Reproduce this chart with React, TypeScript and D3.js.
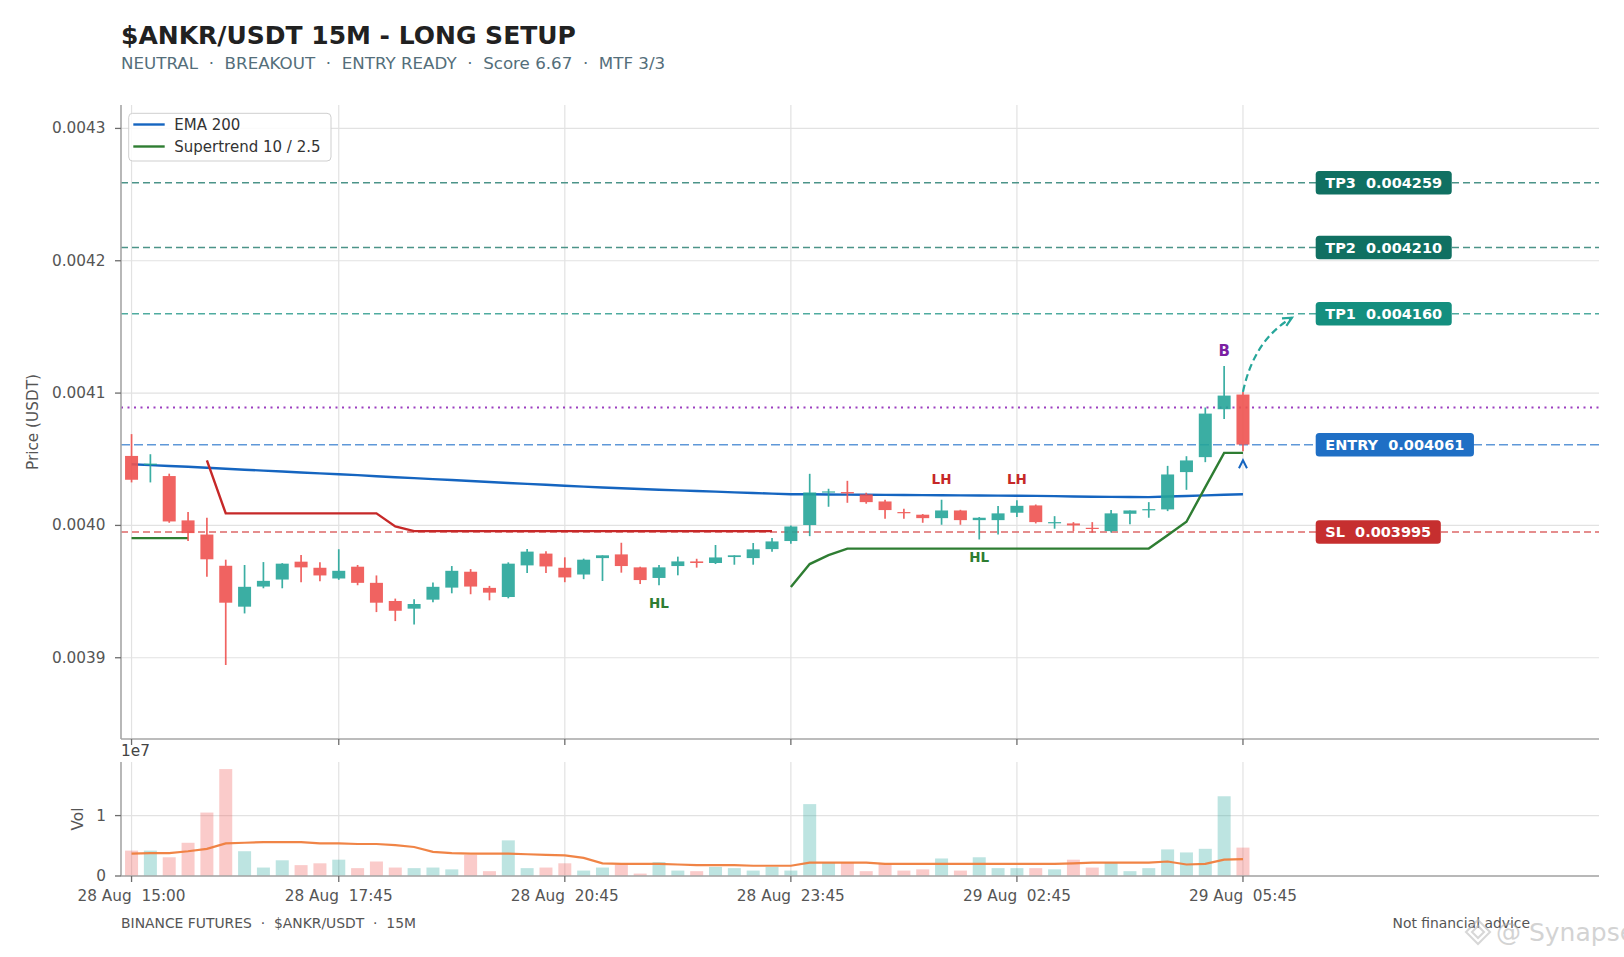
import React, { useEffect, useRef } from "react";
import * as d3 from "d3";

const W = 1624;
const H = 957;
const FONT = "'DejaVu Sans', 'Liberation Sans', sans-serif";

// ---- data ----
const opens = [
  0.0040525, 0.0040457, 0.0040373, 0.0040038, 0.0039931, 0.0039695, 0.0039386, 0.0039538, 0.0039591, 0.0039726,
  0.003968, 0.0039599, 0.0039688, 0.0039566, 0.0039429, 0.0039371, 0.0039439, 0.003953, 0.003965, 0.0039528,
  0.0039459, 0.0039698, 0.0039787, 0.003968, 0.0039629, 0.0039753, 0.0039781, 0.0039683, 0.0039603, 0.0039693,
  0.0039728, 0.0039716, 0.0039761, 0.0039753, 0.0039821, 0.0039882, 0.0040003, 0.0040249, 0.0040252, 0.0040234,
  0.0040181, 0.0040101, 0.0040081, 0.0040055, 0.0040113, 0.004004, 0.004004, 0.0040096, 0.0040151, 0.0040018,
  0.0040015, 0.0039982, 0.0039957, 0.0040088, 0.0040116, 0.0040121, 0.0040403, 0.0040516, 0.0040878, 0.0040989,
];
const highs = [
  0.004069, 0.0040538, 0.0040391, 0.0040102, 0.0040058, 0.0039741, 0.0039701, 0.0039723, 0.0039715, 0.0039777,
  0.0039721, 0.003982, 0.0039701, 0.0039622, 0.0039447, 0.0039442, 0.0039569, 0.0039693, 0.003967, 0.0039543,
  0.0039721, 0.0039822, 0.0039805, 0.0039759, 0.0039749, 0.0039774, 0.0039869, 0.0039688, 0.0039701, 0.0039764,
  0.0039748, 0.0039852, 0.0039774, 0.0039867, 0.0039904, 0.004, 0.004039, 0.0040277, 0.0040337, 0.0040247,
  0.0040194, 0.0040126, 0.0040086, 0.0040194, 0.0040118, 0.0040063, 0.0040146, 0.0040191, 0.0040158, 0.004007,
  0.0040025, 0.0040025, 0.0040116, 0.0040113, 0.0040176, 0.004045, 0.0040523, 0.0040891, 0.0041205, 0.0041009,
];
const lows = [
  0.0040325, 0.0040325, 0.004002, 0.0039883, 0.0039612, 0.0038945, 0.0039335, 0.0039525, 0.0039525, 0.0039571,
  0.0039579, 0.0039589, 0.0039548, 0.0039345, 0.0039277, 0.0039251, 0.0039419, 0.0039487, 0.003948, 0.0039434,
  0.0039449, 0.003964, 0.003964, 0.0039571, 0.0039594, 0.003958, 0.0039643, 0.0039557, 0.0039547, 0.0039623,
  0.0039681, 0.0039708, 0.0039703, 0.0039703, 0.0039801, 0.0039862, 0.0039919, 0.0040141, 0.0040171, 0.0040164,
  0.004005, 0.004005, 0.004002, 0.0040005, 0.0040005, 0.0039894, 0.0039932, 0.0040063, 0.0040015, 0.0039975,
  0.0039957, 0.0039945, 0.0039947, 0.0040008, 0.0040058, 0.0040108, 0.0040269, 0.0040478, 0.0040805, 0.0040561,
];
const closes = [
  0.0040345, 0.0040467, 0.004003, 0.0039942, 0.0039744, 0.0039416, 0.0039536, 0.0039581, 0.0039711, 0.0039683,
  0.0039622, 0.0039657, 0.0039566, 0.0039416, 0.0039355, 0.0039406, 0.0039536, 0.0039657, 0.0039538, 0.0039492,
  0.0039711, 0.0039802, 0.003969, 0.0039607, 0.0039741, 0.0039774, 0.0039693, 0.0039587, 0.0039683, 0.0039728,
  0.0039716, 0.0039758, 0.0039774, 0.0039819, 0.0039879, 0.0039992, 0.0040249, 0.0040257, 0.0040242, 0.0040176,
  0.0040116, 0.0040093, 0.0040055, 0.0040113, 0.004004, 0.0040058, 0.0040091, 0.0040148, 0.0040025, 0.0040025,
  0.004, 0.0039975, 0.0040091, 0.0040113, 0.0040123, 0.0040385, 0.0040491, 0.0040845, 0.0040981, 0.0040611,
];
const ema200 = [
  0.0040462, 0.0040456, 0.0040449, 0.0040443, 0.0040436, 0.0040428, 0.0040421, 0.0040414, 0.0040407, 0.00404,
  0.0040393, 0.0040387, 0.004038, 0.0040372, 0.0040364, 0.0040357, 0.004035, 0.0040343, 0.0040336, 0.0040328,
  0.0040321, 0.0040314, 0.0040307, 0.00403, 0.0040293, 0.0040287, 0.0040281, 0.0040275, 0.004027, 0.0040265,
  0.004026, 0.0040255, 0.004025, 0.0040245, 0.004024, 0.0040236, 0.0040235, 0.0040234, 0.0040233, 0.0040232,
  0.0040231, 0.004023, 0.0040229, 0.0040228, 0.0040227, 0.0040226, 0.0040225, 0.0040224, 0.0040223, 0.0040221,
  0.0040219, 0.0040217, 0.0040216, 0.0040215, 0.0040214, 0.0040218, 0.0040222, 0.0040227, 0.0040232, 0.0040236,
];
const N = null;
const stUp: (number | null)[] = [
  0.0039904, 0.0039904, 0.0039904, 0.0039904, N, N, N, N, N, N,
  N, N, N, N, N, N, N, N, N, N,
  N, N, N, N, N, N, N, N, N, N,
  N, N, N, N, N, 0.0039535, 0.0039708, 0.0039776, 0.0039825, 0.0039825,
  0.0039825, 0.0039825, 0.0039825, 0.0039825, 0.0039825, 0.0039825, 0.0039825, 0.0039825, 0.0039825, 0.0039825,
  0.0039825, 0.0039825, 0.0039825, 0.0039825, 0.0039825, 0.0039926, 0.0040028, 0.0040289, 0.0040548, 0.0040548,
];
const stDown: (number | null)[] = [
  N, N, N, N, 0.0040492, 0.0040091, 0.0040091, 0.0040091, 0.0040091, 0.0040091,
  0.0040091, 0.0040091, 0.0040091, 0.0040091, 0.0039992, 0.0039957, 0.0039957, 0.0039957, 0.0039957, 0.0039957,
  0.0039957, 0.0039957, 0.0039957, 0.0039957, 0.0039957, 0.0039957, 0.0039957, 0.0039957, 0.0039957, 0.0039957,
  0.0039957, 0.0039957, 0.0039957, 0.0039957, 0.0039957, N, N, N, N, N,
  N, N, N, N, N, N, N, N, N, N,
  N, N, N, N, N, N, N, N, N, N,
];
const volumes = [
  4.2e6, 4.2e6, 3.1e6, 5.5e6, 10.5e6, 17.7e6, 4.1e6, 1.4e6, 2.6e6, 1.8e6,
  2.1e6, 2.7e6, 1.3e6, 2.4e6, 1.4e6, 1.3e6, 1.4e6, 1.1e6, 3.5e6, 0.8e6,
  5.9e6, 1.3e6, 1.4e6, 2.1e6, 0.9e6, 1.4e6, 1.9e6, 0.4e6, 2.3e6, 0.9e6,
  0.8e6, 1.5e6, 1.3e6, 0.9e6, 1.5e6, 0.9e6, 11.9e6, 2.3e6, 2.3e6, 0.8e6,
  2.0e6, 0.9e6, 1.1e6, 2.9e6, 0.9e6, 3.1e6, 1.3e6, 1.3e6, 1.3e6, 1.1e6,
  2.7e6, 1.4e6, 2.3e6, 0.8e6, 1.3e6, 4.4e6, 3.9e6, 4.5e6, 13.2e6, 4.7e6,
];
const volMA = [
  3.7e6, 3.8e6, 3.8e6, 4.1e6, 4.5e6, 5.4e6, 5.5e6, 5.6e6, 5.6e6, 5.6e6,
  5.4e6, 5.4e6, 5.3e6, 5.3e6, 5.1e6, 4.8e6, 4.0e6, 3.8e6, 3.7e6, 3.7e6,
  3.7e6, 3.6e6, 3.5e6, 3.4e6, 3.0e6, 2.1e6, 2.0e6, 2.0e6, 2.0e6, 1.9e6,
  1.8e6, 1.8e6, 1.8e6, 1.7e6, 1.7e6, 1.7e6, 2.2e6, 2.2e6, 2.2e6, 2.2e6,
  2.0e6, 2.0e6, 2.0e6, 2.0e6, 2.0e6, 2.0e6, 2.0e6, 2.0e6, 2.0e6, 2.0e6,
  2.1e6, 2.2e6, 2.2e6, 2.2e6, 2.2e6, 2.4e6, 1.9e6, 2.0e6, 2.7e6, 2.8e6,
];
const tickIdx = [0, 11, 23, 35, 47, 59];
const tickLabels = ["28 Aug  15:00", "28 Aug  17:45", "28 Aug  20:45", "28 Aug  23:45", "29 Aug  02:45", "29 Aug  05:45"];
const priceTicks = [0.0039, 0.004, 0.0041, 0.0042, 0.0043];
const priceTickLabels = ["0.0039", "0.0040", "0.0041", "0.0042", "0.0043"];
const volTicks = [0, 1e7];
const volTickLabels = ["0", "1"];

const levelNames = ["TP3", "TP2", "TP1", "ENTRY", "SL"];
const levelValues = [0.004259, 0.00421, 0.00416, 0.004061, 0.003995];
const levelColors = ["#107062", "#107062", "#148f7f", "#1f6fc5", "#c62f2f"];
const breakoutLevel = 0.0040891;
const breakoutIdx = 58;
const swingIdx = [28, 43, 45, 47];
const swingKinds = ["HL", "LH", "HL", "LH"];
const arrowTarget = { idx: 61.6, price: 0.004157 };

export default function App() {
  const ref = useRef<SVGSVGElement>(null);

  useEffect(() => {
    const svg = d3.select(ref.current!);
    svg.selectAll("*").remove();

    const L = 121, R = 1599, T = 105, B = 739;
    const VT = 762, VB = 876;
    const n = opens.length;
    const x = d3.scaleLinear().domain([-0.56, 77.9]).range([L, R]);
    const y = d3.scaleLinear().domain([0.0038386, 0.0043177]).range([B, T]);
    const yv = d3.scaleLinear().domain([0, 1.887e7]).range([VB, VT]);
    const idx = d3.range(n);

    svg.append("rect").attr("width", W).attr("height", H).attr("fill", "#ffffff");

    const defs = svg.append("defs");
    defs.append("clipPath").attr("id", "mainclip").append("rect")
      .attr("x", L).attr("y", T).attr("width", R - L).attr("height", B - T);
    defs.append("clipPath").attr("id", "volclip").append("rect")
      .attr("x", L).attr("y", VT).attr("width", R - L).attr("height", VB - VT);

    // grid
    const grid = svg.append("g").attr("stroke", "#e2e2e2").attr("stroke-width", 1.2);
    priceTicks.forEach((t) => grid.append("line").attr("x1", L).attr("x2", R).attr("y1", y(t)).attr("y2", y(t)));
    tickIdx.forEach((t) => {
      grid.append("line").attr("x1", x(t)).attr("x2", x(t)).attr("y1", T).attr("y2", B);
      grid.append("line").attr("x1", x(t)).attr("x2", x(t)).attr("y1", VT).attr("y2", VB);
    });
    volTicks.forEach((t) => grid.append("line").attr("x1", L).attr("x2", R).attr("y1", yv(t)).attr("y2", yv(t)));

    const main = svg.append("g").attr("clip-path", "url(#mainclip)");

    // level lines
    const lineCols = ["#4c9489", "#4c9489", "#4fab9f", "#5f98d8", "#dd6868"];
    const dashes = ["7,4", "7,4", "7,4", "9,4", "7,4"];
    levelValues.forEach((v, i) => {
      main.append("line").attr("x1", L).attr("x2", R).attr("y1", y(v)).attr("y2", y(v))
        .attr("stroke", lineCols[i]).attr("stroke-width", 1.6).attr("stroke-dasharray", dashes[i]);
    });
    main.append("line").attr("x1", L).attr("x2", R).attr("y1", y(breakoutLevel)).attr("y2", y(breakoutLevel))
      .attr("stroke", "#9c3fc0").attr("stroke-width", 1.8).attr("stroke-dasharray", "2,4.5");

    // EMA + supertrend
    const lineGen = d3.line<number>().x((i) => x(i)).y((i) => y(ema200[i]));
    main.append("path").attr("d", lineGen(idx)!).attr("fill", "none").attr("stroke", "#1565c0").attr("stroke-width", 2.4);
    const stLine = (arr: (number | null)[]) =>
      d3.line<number>().defined((i) => arr[i] != null).x((i) => x(i)).y((i) => y(arr[i] as number))(idx)!;
    main.append("path").attr("d", stLine(stUp)).attr("fill", "none").attr("stroke", "#2e7d32").attr("stroke-width", 2.4);
    main.append("path").attr("d", stLine(stDown)).attr("fill", "none").attr("stroke", "#c62828").attr("stroke-width", 2.4);

    // candles
    const cg = main.append("g").attr("opacity", 0.9);
    idx.forEach((i) => {
      const up = closes[i] >= opens[i];
      const col = up ? "#26a69a" : "#ef5350";
      cg.append("line").attr("x1", x(i)).attr("x2", x(i)).attr("y1", y(highs[i])).attr("y2", y(lows[i]))
        .attr("stroke", col).attr("stroke-width", 1.7);
      const yt = y(Math.max(opens[i], closes[i]));
      const yb = y(Math.min(opens[i], closes[i]));
      cg.append("rect").attr("x", x(i) - 6.5).attr("y", yt).attr("width", 13).attr("height", Math.max(1.2, yb - yt))
        .attr("fill", col);
    });

    // swing labels
    swingIdx.forEach((si, k) => {
      const isHL = swingKinds[k] === "HL";
      main.append("text").attr("x", x(si)).attr("y", isHL ? y(lows[si]) + 18 : y(highs[si]) - 21)
        .attr("text-anchor", "middle").attr("dominant-baseline", "central")
        .attr("font-family", FONT).attr("font-size", 13.5).attr("font-weight", "bold")
        .attr("fill", isHL ? "#2e7d32" : "#c62828").text(swingKinds[k]);
    });
    // breakout label
    main.append("text").attr("x", x(breakoutIdx)).attr("y", y(highs[breakoutIdx]) - 15)
      .attr("text-anchor", "middle").attr("dominant-baseline", "central")
      .attr("font-family", FONT).attr("font-size", 15).attr("font-weight", "bold").attr("fill", "#7b1fa2").text("B");
    // entry chevron
    const last = n - 1;
    const cx = x(last), cy = y(lows[last]) + 13;
    main.append("path").attr("d", `M${cx - 4},${cy + 4} L${cx},${cy - 4} L${cx + 4},${cy + 4}`)
      .attr("fill", "none").attr("stroke", "#1565c0").attr("stroke-width", 2);
    // projection arrow
    const sx = x(last), sy = y(highs[last]);
    const ex = x(arrowTarget.idx), ey = y(arrowTarget.price);
    const qx = sx + 11, qy = sy - 52;
    main.append("path").attr("d", `M${sx},${sy} Q${qx},${qy} ${ex},${ey}`)
      .attr("fill", "none").attr("stroke", "#26a69a").attr("stroke-width", 2.2).attr("stroke-dasharray", "7,4");
    const ang = Math.atan2(ey - qy, ex - qx);
    const hl = 10;
    const a1 = ang + Math.PI - 0.45, a2 = ang + Math.PI + 0.45;
    main.append("path")
      .attr("d", `M${ex + hl * Math.cos(a1)},${ey + hl * Math.sin(a1)} L${ex},${ey} L${ex + hl * Math.cos(a2)},${ey + hl * Math.sin(a2)}`)
      .attr("fill", "none").attr("stroke", "#26a69a").attr("stroke-width", 2.2);

    // level labels
    levelValues.forEach((v, i) => {
      const g = svg.append("g");
      const bx = 1315.7;
      const rect = g.append("rect");
      const t = g.append("text").attr("x", bx + 9.6).attr("y", y(v)).attr("dominant-baseline", "central")
        .attr("font-family", FONT).attr("font-size", 14.5).attr("font-weight", "bold").attr("fill", "#ffffff")
        .style("white-space", "pre").text(`${levelNames[i]}  ${v.toFixed(6)}`);
      const w = (t.node() as SVGTextElement).getComputedTextLength();
      rect.attr("x", bx).attr("y", y(v) - 11.7).attr("width", w + 19.2).attr("height", 23.4).attr("rx", 3.5)
        .attr("fill", levelColors[i]);
    });

    // volume bars
    const vg = svg.append("g").attr("clip-path", "url(#volclip)");
    idx.forEach((i) => {
      const up = closes[i] >= opens[i];
      vg.append("rect").attr("x", x(i) - 6.5).attr("y", yv(volumes[i])).attr("width", 13)
        .attr("height", yv(0) - yv(volumes[i])).attr("fill", up ? "#26a69a" : "#ef5350").attr("opacity", 0.3);
    });
    const maLine = d3.line<number>().x((i) => x(i)).y((i) => yv(volMA[i])).curve(d3.curveLinear);
    vg.append("path").attr("d", maLine(idx)!).attr("fill", "none").attr("stroke", "#ef7d3c").attr("stroke-width", 2.2)
      .attr("opacity", 0.95);

    // spines
    const sp = svg.append("g").attr("stroke", "#a6a6a6").attr("stroke-width", 1.6);
    sp.append("line").attr("x1", L).attr("x2", L).attr("y1", T).attr("y2", B);
    sp.append("line").attr("x1", L).attr("x2", R).attr("y1", B).attr("y2", B);
    sp.append("line").attr("x1", L).attr("x2", L).attr("y1", VT).attr("y2", VB);
    sp.append("line").attr("x1", L).attr("x2", R).attr("y1", VB).attr("y2", VB);

    // ticks
    const tk = svg.append("g").attr("stroke", "#6d6d6d").attr("stroke-width", 1.3);
    const lab = svg.append("g").attr("font-family", FONT).attr("font-size", 15.3).attr("fill", "#555555");
    priceTicks.forEach((t, i) => {
      tk.append("line").attr("x1", L - 6).attr("x2", L).attr("y1", y(t)).attr("y2", y(t));
      lab.append("text").attr("x", 105.5).attr("y", y(t)).attr("text-anchor", "end").attr("dominant-baseline", "central")
        .text(priceTickLabels[i]);
    });
    volTicks.forEach((t, i) => {
      tk.append("line").attr("x1", L - 6).attr("x2", L).attr("y1", yv(t)).attr("y2", yv(t));
      lab.append("text").attr("x", 106).attr("y", yv(t)).attr("text-anchor", "end").attr("dominant-baseline", "central")
        .text(volTickLabels[i]);
    });
    tickIdx.forEach((t, i) => {
      tk.append("line").attr("x1", x(t)).attr("x2", x(t)).attr("y1", B).attr("y2", B + 6);
      tk.append("line").attr("x1", x(t)).attr("x2", x(t)).attr("y1", VB).attr("y2", VB + 6);
      lab.append("text").attr("x", x(t)).attr("y", 896).attr("text-anchor", "middle").attr("dominant-baseline", "central")
        .style("white-space", "pre").text(tickLabels[i]);
    });
    lab.append("text").attr("x", L).attr("y", 751).attr("dominant-baseline", "central").attr("fill", "#444").text("1e7");
    lab.append("text").attr("transform", `translate(33,${(T + B) / 2}) rotate(-90)`).attr("text-anchor", "middle")
      .attr("dominant-baseline", "central").text("Price (USDT)");
    lab.append("text").attr("transform", `translate(78,${(VT + VB) / 2}) rotate(-90)`).attr("text-anchor", "middle")
      .attr("dominant-baseline", "central").text("Vol");

    // legend
    const lg = svg.append("g");
    lg.append("rect").attr("x", 128.7).attr("y", 113.3).attr("width", 202.3).attr("height", 47.7).attr("rx", 4)
      .attr("fill", "#ffffff").attr("fill-opacity", 0.85).attr("stroke", "#cfcfcf").attr("stroke-width", 1);
    const items = [["EMA 200", "#1565c0"], ["Supertrend 10 / 2.5", "#2e7d32"]];
    items.forEach(([name, col], k) => {
      const yy = 124.5 + k * 22;
      lg.append("line").attr("x1", 133.3).attr("x2", 164.7).attr("y1", yy).attr("y2", yy).attr("stroke", col).attr("stroke-width", 2.4);
      lg.append("text").attr("x", 174.3).attr("y", yy).attr("dominant-baseline", "central")
        .attr("font-family", FONT).attr("font-size", 15).attr("fill", "#333").text(name);
    });

    // titles
    svg.append("text").attr("x", 121).attr("y", 44).attr("font-family", FONT).attr("font-size", 25)
      .attr("font-weight", "bold").attr("fill", "#212121").text("$ANKR/USDT 15M - LONG SETUP");
    svg.append("text").attr("x", 121).attr("y", 69).attr("font-family", FONT).attr("font-size", 16.7)
      .attr("fill", "#546e7a").style("white-space", "pre")
      .text("NEUTRAL  \u00b7  BREAKOUT  \u00b7  ENTRY READY  \u00b7  Score 6.67  \u00b7  MTF 3/3");
    svg.append("text").attr("x", 121).attr("y", 923).attr("dominant-baseline", "central").attr("font-family", FONT)
      .attr("font-size", 13.9).attr("fill", "#555").style("white-space", "pre")
      .text("BINANCE FUTURES  \u00b7  $ANKR/USDT  \u00b7  15M");
    svg.append("text").attr("x", 1530).attr("y", 923).attr("dominant-baseline", "central").attr("text-anchor", "end")
      .attr("font-family", FONT).attr("font-size", 13.9).attr("fill", "#555").text("Not financial advice");

    // watermark (overlay, as in the reference)
    const wm = svg.append("g").attr("opacity", 0.55);
    wm.append("path").attr("d", "M1478,920 L1490,932 L1478,944 L1466,932 Z M1478,926 L1484,932 L1478,938 L1472,932 Z")
      .attr("fill", "none").attr("stroke", "#b8b8b8").attr("stroke-width", 2);
    wm.append("text").attr("x", 1496).attr("y", 932).attr("dominant-baseline", "central").attr("font-family", FONT)
      .attr("font-size", 25).attr("fill", "#b0b0b0").text("@ Synapse");
  }, []);

  return (
    <div style={{ position: "absolute", left: 0, top: 0, width: W, height: H, background: "#fff", overflow: "hidden" }}>
      <svg ref={ref} width={W} height={H} style={{ display: "block" }} />
    </div>
  );
}
